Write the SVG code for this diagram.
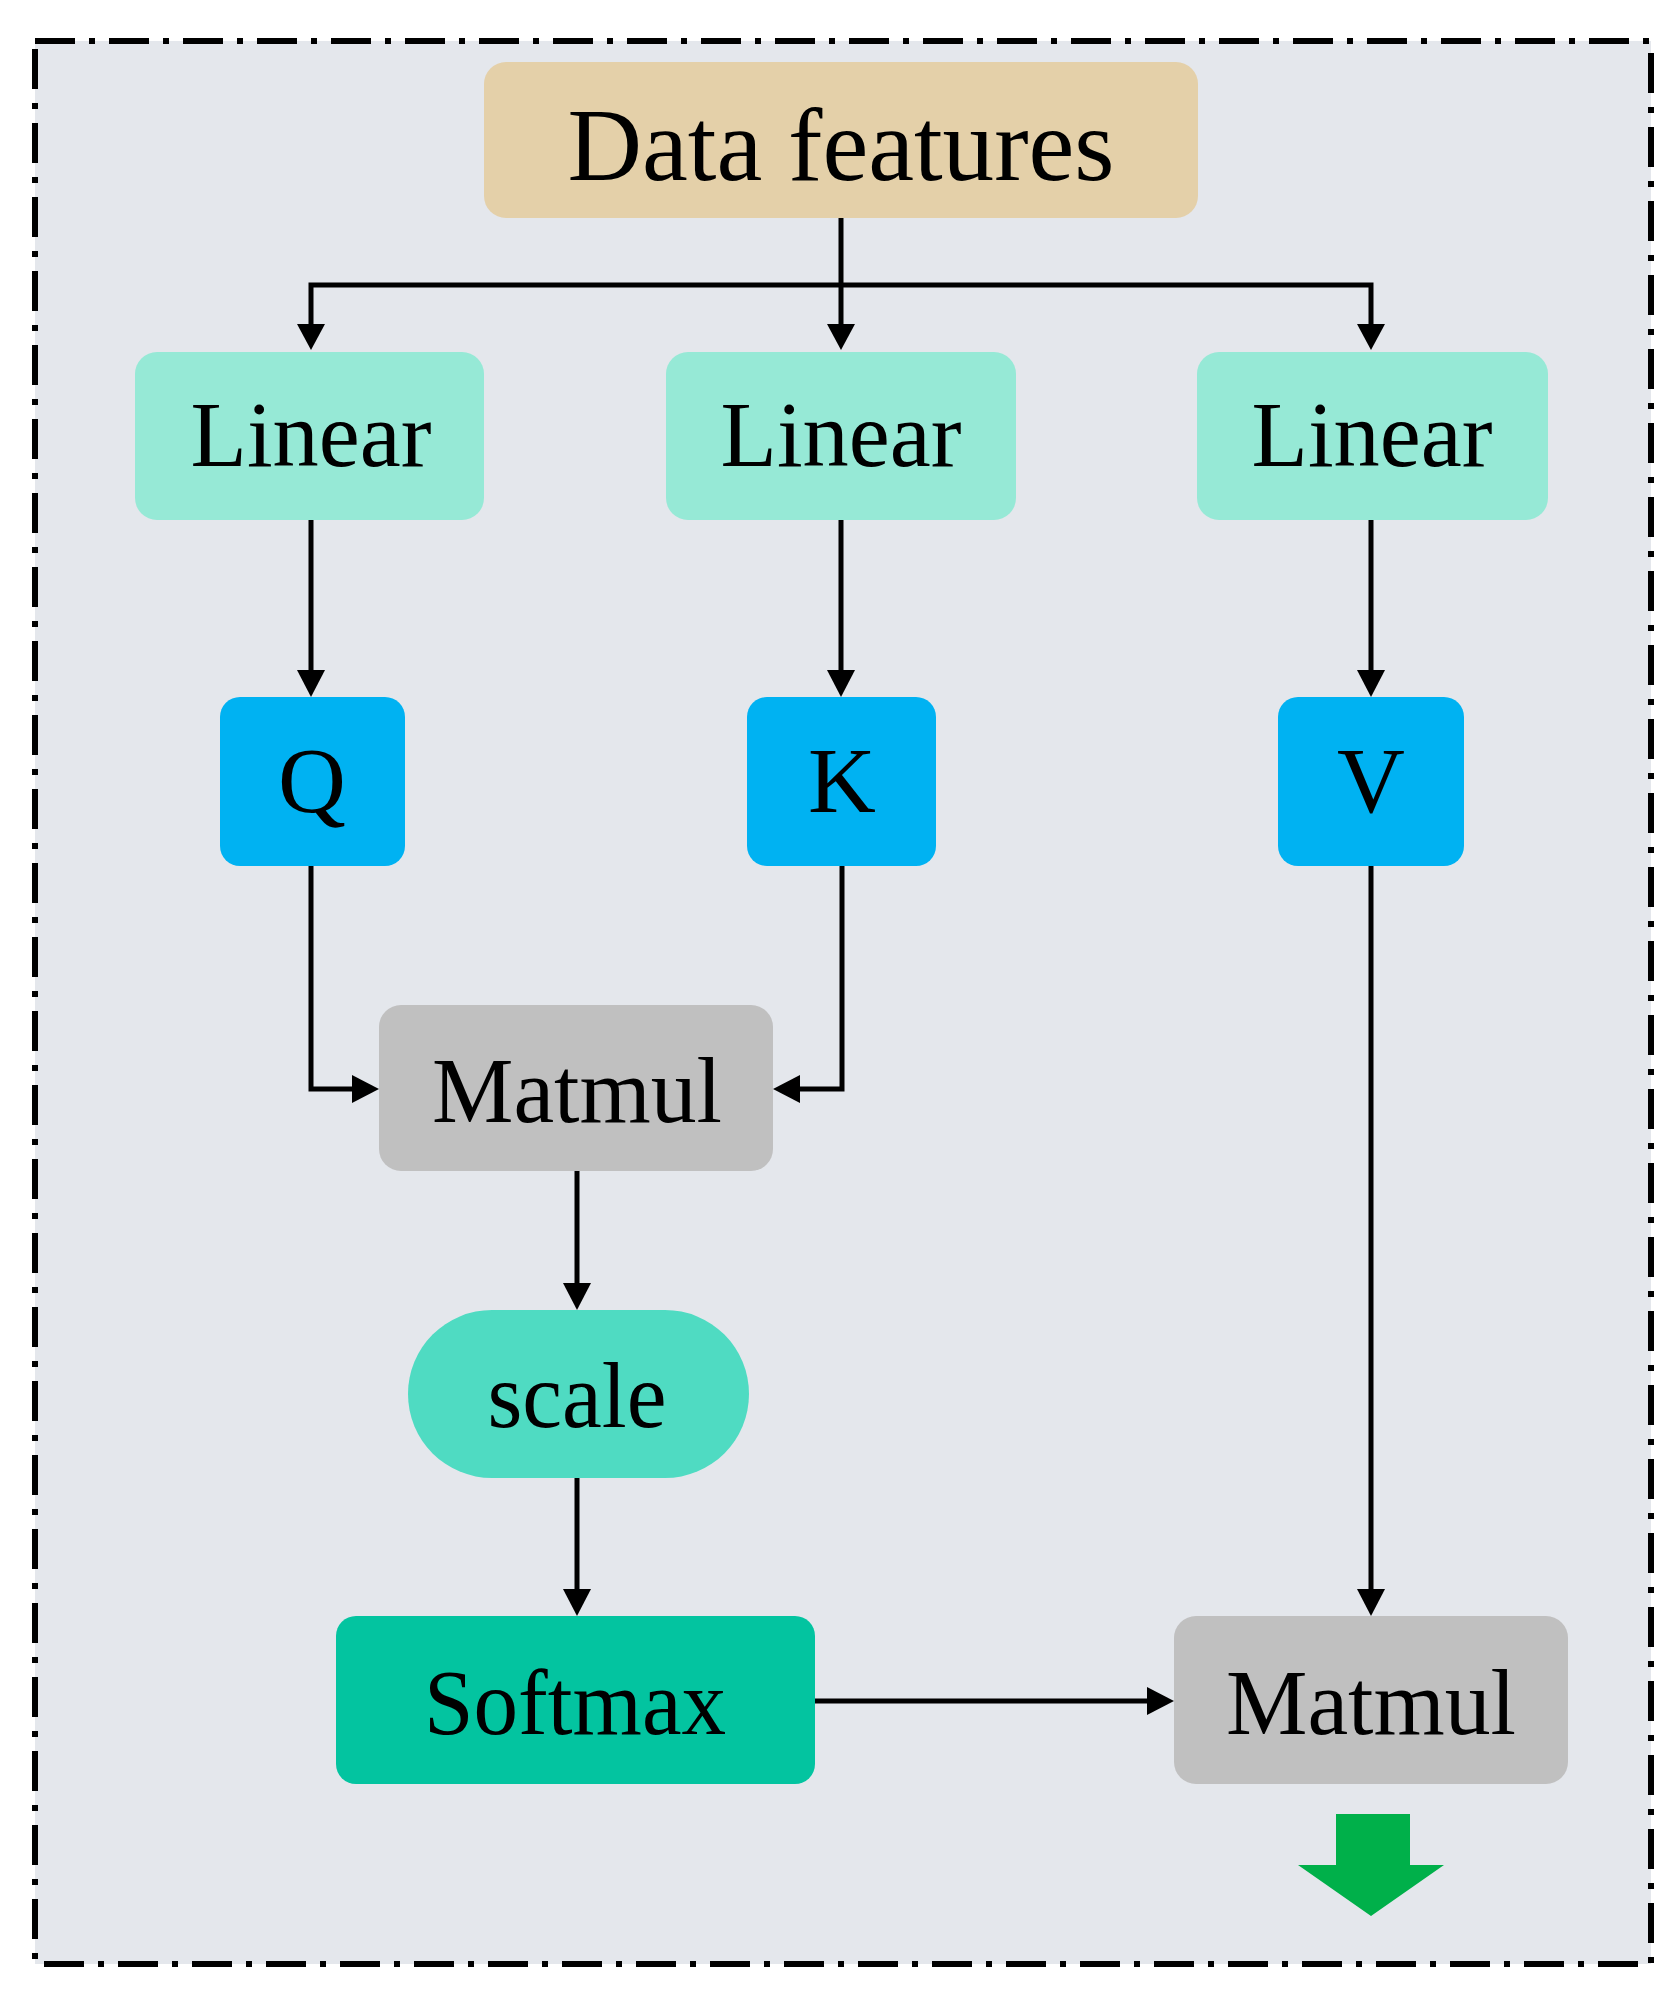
<svg xmlns="http://www.w3.org/2000/svg" width="1679" height="2015" viewBox="0 0 1679 2015">
<defs>
<style>
text{font-family:"Liberation Serif","Times New Roman",serif;fill:#000;text-anchor:middle}
.c{stroke:#000;stroke-width:5;fill:none}
</style>
<marker id="a" viewBox="0 0 10 10" refX="10" refY="5" markerWidth="6" markerHeight="6" orient="auto" markerUnits="userSpaceOnUse" style="overflow:visible"><path d="M0,0 L10,5 L0,10 z" fill="#000" transform="scale(2.6)" /></marker>
</defs>
<rect width="1679" height="2015" fill="#fff"/>
<rect x="35" y="41" width="1616" height="1923" fill="#e4e7ec" stroke="#000" stroke-width="6" stroke-dasharray="40,14,6,14"/>
<g id="connectors" class="c">
<path d="M841,218 V325"/>
<path d="M311,325 V285 H1371 V325"/>
<path d="M311,520 V672"/>
<path d="M841,520 V672"/>
<path d="M1371,520 V672"/>
<path d="M311,866 V1089 H355"/>
<path d="M842,866 V1089 H797"/>
<path d="M577,1171 V1285"/>
<path d="M577,1478 V1591"/>
<path d="M1371,866 V1591"/>
<path d="M815,1701 H1149"/>
</g>
<g id="heads" fill="#000">
<path d="M297,324 L325,324 L311,350 z"/>
<path d="M827,324 L855,324 L841,350 z"/>
<path d="M1357,324 L1385,324 L1371,350 z"/>
<path d="M297,670 L325,670 L311,697 z"/>
<path d="M827,670 L855,670 L841,697 z"/>
<path d="M1357,670 L1385,670 L1371,697 z"/>
<path d="M352,1075 L352,1103 L379,1089 z"/>
<path d="M800,1075 L800,1103 L773,1089 z"/>
<path d="M563,1283 L591,1283 L577,1310 z"/>
<path d="M563,1589 L591,1589 L577,1616 z"/>
<path d="M1357,1589 L1385,1589 L1371,1616 z"/>
<path d="M1147,1687 L1147,1715 L1174,1701 z"/>
</g>
<g id="data"><rect x="484" y="62" width="714" height="156" rx="22" fill="#e4d0a9"/><text x="841" y="180" font-size="104" textLength="547" lengthAdjust="spacingAndGlyphs">Data features</text></g>
<g id="lin1"><rect x="135" y="352" width="349" height="168" rx="22" fill="#96e9d6"/><text x="311" y="466" font-size="94" textLength="241" lengthAdjust="spacingAndGlyphs">Linear</text></g>
<g id="lin2"><rect x="666" y="352" width="350" height="168" rx="22" fill="#96e9d6"/><text x="841" y="466" font-size="94" textLength="241" lengthAdjust="spacingAndGlyphs">Linear</text></g>
<g id="lin3"><rect x="1197" y="352" width="351" height="168" rx="22" fill="#96e9d6"/><text x="1372" y="466" font-size="94" textLength="241" lengthAdjust="spacingAndGlyphs">Linear</text></g>
<g id="q"><rect x="220" y="697" width="185" height="169" rx="20" fill="#00b2f2"/><text x="312" y="812" font-size="94">Q</text></g>
<g id="k"><rect x="747" y="697" width="189" height="169" rx="20" fill="#00b2f2"/><text x="842" y="812" font-size="94">K</text></g>
<g id="v"><rect x="1278" y="697" width="186" height="169" rx="20" fill="#00b2f2"/><text x="1371" y="812" font-size="94">V</text></g>
<g id="matmul1"><rect x="379" y="1005" width="394" height="166" rx="22" fill="#c0c0c0"/><text x="577" y="1122" font-size="94" textLength="290" lengthAdjust="spacingAndGlyphs">Matmul</text></g>
<g id="scale"><rect x="408" y="1310" width="341" height="168" rx="84" fill="#4fdbc2"/><text x="577" y="1427" font-size="94" textLength="179" lengthAdjust="spacingAndGlyphs">scale</text></g>
<g id="softmax"><rect x="336" y="1616" width="479" height="168" rx="20" fill="#03c4a0"/><text x="575" y="1734" font-size="94" textLength="302" lengthAdjust="spacingAndGlyphs">Softmax</text></g>
<g id="matmul2"><rect x="1174" y="1616" width="394" height="168" rx="22" fill="#c0c0c0"/><text x="1371" y="1734" font-size="94" textLength="290" lengthAdjust="spacingAndGlyphs">Matmul</text></g>
<g id="out"><path d="M1336,1814 H1410 V1865 H1444 L1371,1916 L1298,1865 H1336 z" fill="#00b04a"/></g>
</svg>
